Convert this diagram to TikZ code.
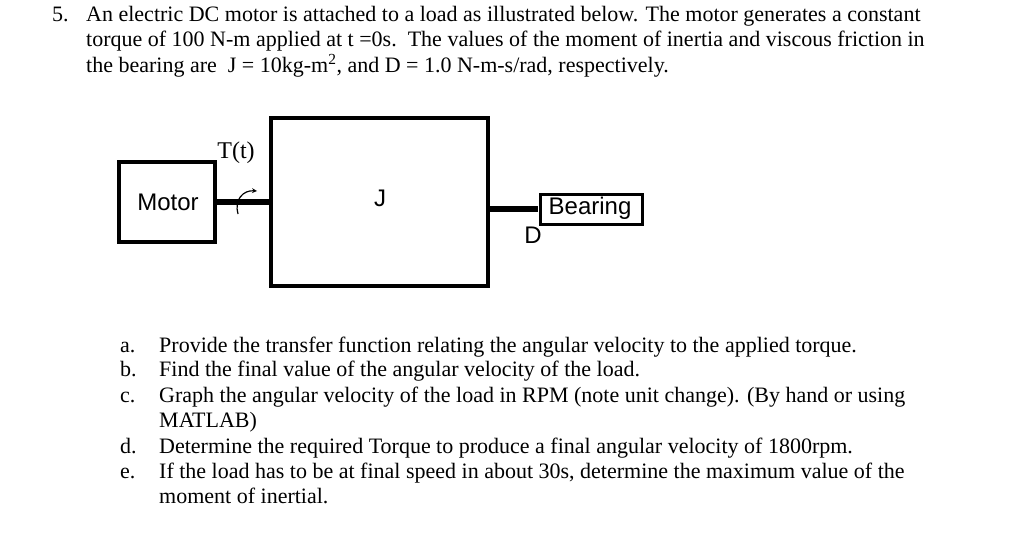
\documentclass[tikz,border=0pt]{standalone}
\usepackage{fontspec}
\setmainfont{Liberation Serif}
\newfontfamily\arial{Liberation Sans}
\begin{document}
\begin{tikzpicture}[x=1pt,y=-1pt,
  txt/.style={anchor=base west,inner sep=0pt,font=\fontsize{22}{24}\selectfont},
  lbl/.style={inner sep=0pt,font=\arial\fontsize{24}{26}\selectfont},
  box/.style={draw,line width=3.5pt},
  shaft/.style={line width=6pt}]
\useasboundingbox (0,0) rectangle (1024,543);
\node[txt] (n5) at (52,22) {5.};
\node[txt] (l1) at (86,22) {An electric DC motor is attached to a load as illustrated below. The motor generates a constant};
\node[txt] (l2) at (86,47) {torque of 100 N-m applied at t =0s.\ \ The values of the moment of inertia and viscous friction in};
\node[txt] (l3) at (86,72) {the bearing are\ \ J = 10kg-m\textsuperscript{2}, and D = 1.0 N-m-s/rad, respectively.};
\draw[box] (119,162) rectangle (215,242);
\node[lbl] (motor) at (168,202) {Motor};
\draw[box] (271,118) rectangle (488,286);
\node[lbl] (J) at (380,198) {J};
\draw[box,line width=3pt] (540,194) rectangle (642,224);
\node[lbl] (bear) at (590,208) {Bearing};
\node[lbl] (D) at (533,235) {D};
\draw[shaft] (215,202) -- (271,202);
\draw[shaft] (488,209) -- (538,209);
\node[inner sep=0pt,font=\fontsize{24}{26}\selectfont] (T) at (236,153) {T(t)};
\draw[-stealth,line width=1.2pt] (238,214) .. controls (234,200) and (243,190) .. (257,191);
\node[txt] (a) at (120,352) {a.};
\node[txt] (at) at (159,352) {Provide the transfer function relating the angular velocity to the applied torque.};
\node[txt] (b) at (120,376) {b.};
\node[txt] (bt) at (159,376) {Find the final value of the angular velocity of the load.};
\node[txt] (c) at (120,402) {c.};
\node[txt] (ct) at (159,402) {Graph the angular velocity of the load in RPM (note unit change). (By hand or using};
\node[txt] (ct2) at (159,427) {MATLAB)};
\node[txt] (d) at (120,453) {d.};
\node[txt] (dt) at (159,453) {Determine the required Torque to produce a final angular velocity of 1800rpm.};
\node[txt] (e) at (120,478) {e.};
\node[txt] (et) at (159,478) {If the load has to be at final speed in about 30s, determine the maximum value of the};
\node[txt] (et2) at (159,503) {moment of inertial.};
\end{tikzpicture}
\end{document}
